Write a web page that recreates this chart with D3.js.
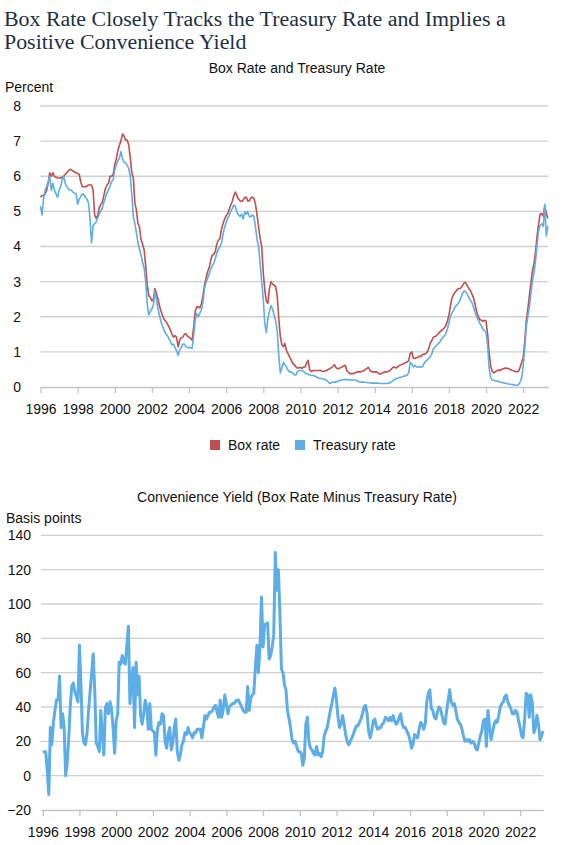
<!DOCTYPE html>
<html>
<head>
<meta charset="utf-8">
<script src="https://cdn.jsdelivr.net/npm/d3@7"></script>
<style>
  body { margin: 0; background: #fff; }
  text { font-family: Arial, "Liberation Sans", sans-serif; }
</style>
</head>
<body>
<script>
// monthly values, starting January 1996
var treasuryRate = [
  5.15, 4.9, 5.35, 5.6, 5.7, 5.85, 6.0, 5.6, 5.8, 5.6,
  5.5, 5.4, 5.6, 5.7, 5.9, 6.0, 5.8, 5.7, 5.65, 5.6,
  5.6, 5.55, 5.52, 5.5, 5.2, 5.35, 5.42, 5.5, 5.48, 5.4,
  5.35, 5.25, 4.8, 4.1, 4.6, 4.65, 4.7, 4.82, 4.92, 5.0,
  5.1, 5.25, 5.38, 5.52, 5.62, 5.72, 5.85, 5.9, 6.18, 6.33,
  6.43, 6.52, 6.7, 6.5, 6.4, 6.38, 6.32, 6.22, 6.0, 5.5,
  4.85, 4.65, 4.4, 4.12, 3.92, 3.75, 3.55, 3.38, 3.0, 2.35,
  2.05, 2.15, 2.22, 2.35, 2.72, 2.5, 2.22, 2.03, 1.85, 1.72,
  1.6, 1.52, 1.46, 1.38, 1.3, 1.2, 1.22, 1.13, 1.03, 0.9,
  1.05, 1.12, 1.22, 1.22, 1.15, 1.12, 1.12, 1.12, 1.1, 1.45,
  1.9, 2.1, 2.0, 2.1, 2.2, 2.4, 2.8, 2.98, 3.1, 3.22,
  3.35, 3.45, 3.52, 3.65, 3.82, 3.92, 4.0, 4.1, 4.35, 4.55,
  4.68, 4.82, 4.88, 5.0, 5.08, 5.18, 5.15, 4.98, 4.9, 4.86,
  4.92, 4.78, 4.98, 4.92, 5.0, 4.85, 4.85, 4.9, 4.85, 4.55,
  4.2, 4.0, 3.5, 3.0, 2.5, 1.8, 1.55, 1.95, 2.15, 2.32,
  2.22, 2.05, 1.88, 1.6, 0.9, 0.4, 0.55, 0.7, 0.63, 0.57,
  0.48, 0.43, 0.43, 0.4, 0.35, 0.34, 0.43, 0.47, 0.47, 0.47,
  0.45, 0.4, 0.38, 0.36, 0.34, 0.33, 0.33, 0.32, 0.29, 0.27,
  0.25, 0.24, 0.24, 0.23, 0.21, 0.19, 0.15, 0.1, 0.12, 0.14,
  0.14, 0.14, 0.16, 0.18, 0.19, 0.2, 0.21, 0.21, 0.21, 0.21,
  0.2, 0.2, 0.2, 0.2, 0.19, 0.17, 0.15, 0.14, 0.14, 0.14,
  0.13, 0.13, 0.12, 0.12, 0.11, 0.11, 0.11, 0.11, 0.11, 0.1,
  0.1, 0.1, 0.1, 0.1, 0.1, 0.11, 0.12, 0.15, 0.19, 0.22,
  0.24, 0.25, 0.27, 0.28, 0.29, 0.31, 0.32, 0.34, 0.4, 0.7,
  0.66, 0.57, 0.62, 0.57, 0.57, 0.58, 0.56, 0.58, 0.68, 0.73,
  0.77, 0.82, 0.87, 0.95, 1.09, 1.14, 1.18, 1.23, 1.27, 1.35,
  1.4, 1.45, 1.52, 1.65, 1.83, 2.02, 2.11, 2.18, 2.28, 2.33,
  2.37, 2.45, 2.58, 2.68, 2.74, 2.7, 2.62, 2.53, 2.46, 2.4,
  2.26, 2.13, 2.0, 1.91, 1.81, 1.74, 1.64, 1.61, 1.56, 1.2,
  0.55, 0.26, 0.2, 0.19, 0.18, 0.17, 0.16, 0.14, 0.13, 0.12,
  0.11, 0.1, 0.09, 0.08, 0.08, 0.07, 0.06, 0.05, 0.05, 0.06,
  0.14, 0.26, 0.6, 1.1, 1.7, 2.0, 2.25, 2.65, 3.0, 3.25,
  3.6, 4.05, 4.45, 4.6, 4.65, 4.57, 5.2, 4.3, 4.58
];

var boxRate = [
  5.4, 5.45, 5.45, 5.5, 5.6, 5.8, 6.1, 6.0, 6.1, 6.0,
  5.97, 5.95, 5.95, 5.95, 5.97, 6.0, 6.05, 6.1, 6.15, 6.2,
  6.18, 6.15, 6.12, 6.1, 6.08, 6.05, 5.85, 5.7, 5.7, 5.7,
  5.72, 5.75, 5.75, 5.75, 5.6, 4.9, 4.8, 4.88, 5.1, 5.2,
  5.25, 5.45, 5.65, 5.75, 5.8, 6.0, 6.0, 6.05, 6.33, 6.5,
  6.72, 6.88, 7.0, 7.2, 7.15, 7.03, 7.03, 6.9, 6.53, 6.1,
  5.95, 5.22, 5.05, 4.65, 4.56, 4.2, 4.07, 3.9, 3.45, 2.9,
  2.6, 2.55, 2.45, 2.5, 2.8, 2.66, 2.5, 2.3, 2.15, 2.02,
  1.92, 1.87, 1.8, 1.72, 1.62, 1.5, 1.42, 1.46, 1.42, 1.14,
  1.33, 1.4, 1.42, 1.5, 1.52, 1.45, 1.42, 1.38, 1.33, 1.7,
  2.15, 2.28, 2.28, 2.25, 2.37, 2.6, 2.9, 3.1, 3.28, 3.4,
  3.6, 3.75, 3.78, 3.85, 4.07, 4.18, 4.23, 4.5, 4.65, 4.78,
  4.88, 4.93, 5.05, 5.18, 5.28, 5.45, 5.55, 5.44, 5.35, 5.3,
  5.28, 5.32, 5.4, 5.4, 5.3, 5.3, 5.38, 5.41, 5.37, 5.2,
  4.9, 4.55, 4.23, 4.0, 3.25, 2.75, 2.45, 2.38, 2.8, 3.0,
  2.93, 2.9, 2.85, 2.6, 1.95, 1.45, 1.2, 1.15, 1.24, 1.04,
  0.95, 0.86, 0.77, 0.68, 0.63, 0.58, 0.54, 0.54, 0.56, 0.53,
  0.57, 0.57, 0.68, 0.76, 0.5, 0.44, 0.46, 0.47, 0.47, 0.47,
  0.47, 0.47, 0.45, 0.44, 0.46, 0.47, 0.5, 0.52, 0.55, 0.58,
  0.64, 0.55, 0.52, 0.53, 0.55, 0.57, 0.6, 0.62, 0.47, 0.42,
  0.38, 0.38, 0.38, 0.4, 0.42, 0.43, 0.43, 0.43, 0.45, 0.46,
  0.5, 0.53, 0.56, 0.47, 0.44, 0.43, 0.43, 0.43, 0.42, 0.37,
  0.37, 0.4, 0.42, 0.43, 0.43, 0.45, 0.47, 0.52, 0.57, 0.56,
  0.54, 0.58, 0.61, 0.63, 0.65, 0.67, 0.7, 0.71, 0.75, 0.95,
  1.0, 0.82, 0.81, 0.84, 0.84, 0.88, 0.87, 0.93, 0.93, 0.95,
  1.0, 1.1, 1.26, 1.33, 1.42, 1.44, 1.46, 1.51, 1.56, 1.6,
  1.64, 1.68, 1.75, 1.87, 2.05, 2.32, 2.53, 2.62, 2.7, 2.75,
  2.8, 2.8, 2.83, 2.9, 2.98, 2.96, 2.87, 2.79, 2.74, 2.64,
  2.53, 2.35, 2.14, 2.01, 1.92, 1.9, 1.87, 1.9, 1.88, 1.5,
  1.0, 0.6, 0.45, 0.4, 0.43, 0.47, 0.48, 0.47, 0.5, 0.52,
  0.53, 0.54, 0.53, 0.51, 0.49, 0.47, 0.46, 0.44, 0.43, 0.45,
  0.56, 0.7, 0.83, 1.3, 1.85, 2.2, 2.58, 2.95, 3.3, 3.5,
  3.85, 4.3, 4.65, 4.92, 4.94, 4.86, 5.15, 4.95, 4.8
];

// basis points, monthly from January 1996
var convenienceYield = [
  14, 14, 14, 3, -11, 28, 18, 31, 38, 44,
  44, 58, 28, 36, 29, 0, 7, 21, 40, 52,
  54, 49, 46, 43, 76, 52, 25, 19, 18, 25,
  38, 49, 60, 71, 50, 19, 17, 14, 38, 25,
  12, 40, 42, 36, 43, 39, 28, 13, 32, 36,
  66, 65, 70, 66, 65, 76, 87, 42, 55, 63,
  28, 66, 47, 58, 35, 30, 36, 44, 40, 27,
  42, 27, 26, 25, 12, 27, 31, 30, 36, 35,
  20, 16, 24, 28, 15, 19, 28, 33, 14, 9,
  12, 18, 20, 25, 24, 28, 25, 24, 22, 25,
  25, 27, 27, 27, 22, 28, 35, 33, 35, 37,
  37, 38, 40, 41, 37, 34, 44, 34, 39, 47,
  42, 36, 40, 41, 42, 42, 43, 44, 44, 42,
  40, 38, 37, 37, 52, 38, 45, 47, 48, 63,
  76, 60, 75, 104, 75, 88, 88, 89, 68, 70,
  75, 82, 130, 108, 120, 95, 62, 60, 53, 50,
  38, 33, 28, 21, 19, 20, 17, 14, 14, 13,
  6, 10, 30, 34, 20, 16, 15, 13, 12, 17,
  12, 13, 11, 14, 23, 26, 28, 33, 38, 42,
  47, 51, 44, 34, 28, 30, 35, 30, 24, 20,
  18, 20, 22, 24, 27, 29, 29, 31, 33, 36,
  40, 41, 36, 26, 22, 26, 32, 33, 29, 27,
  28, 28, 30, 31, 34, 33, 32, 34, 32, 35,
  32, 30, 31, 34, 36, 30, 28, 28, 26, 24,
  21, 16, 18, 24, 23, 22, 27, 31, 30, 27,
  30, 43, 48, 50, 39, 38, 34, 33, 37, 40,
  39, 35, 31, 30, 38, 44, 50, 43, 41, 42,
  38, 33, 31, 30, 27, 23, 20, 21, 20, 21,
  19, 20, 19, 16, 15, 19, 23, 26, 32, 33,
  17, 38, 29, 21, 25, 30, 32, 31, 35, 40,
  42, 43, 46, 47, 43, 41, 39, 36, 36, 38,
  37, 32, 28, 23, 22, 33, 48, 47, 34, 47,
  42, 25, 28, 35, 30, 21, 23, 26
];

var rateTicks = [0, 1, 2, 3, 4, 5, 6, 7, 8];
var bpTicks = [-20, 0, 20, 40, 60, 80, 100, 120, 140];
var yearTicks = [1996, 1998, 2000, 2002, 2004, 2006, 2008, 2010, 2012, 2014, 2016, 2018, 2020, 2022];
var seriesNames = ["Box rate", "Treasury rate"];

var red = "#c0504d";
var blue = "#5dade6";
var grid = "#d0d0d0";
var startMonth = new Date(1996, 0, 1);

function monthDate(i) { return d3.timeMonth.offset(startMonth, i); }

var svg = d3.select("body").append("svg").attr("width", 567).attr("height", 845);

// title
var titleLines = ["Box Rate Closely Tracks the Treasury Rate and Implies a", "Positive Convenience Yield"];
var title = svg.selectAll(".title").data(titleLines).enter()
  .append("text")
  .attr("class", "title")
  .attr("x", 4)
  .attr("y", function(d, i){ return 26 + i * 23; })
  .style("font-family", "Georgia, 'Liberation Serif', 'DejaVu Serif', serif")
  .style("font-size", "21px")
  .attr("fill", "#1e3044")
  .text(function(d){ return d; });
// fit the first line to the width it has in the picture
var w0 = title.node().getComputedTextLength();
title.style("font-size", (21 * 502 / w0) + "px");

function drawPanel(opt) {
  var g = svg.append("g");
  var x = opt.x, y = opt.y;
  var x0 = x.range()[0], x1 = x.range()[1];

  g.append("text").attr("x", 297).attr("y", opt.titleY).attr("text-anchor", "middle")
    .style("font-size", "14px").attr("fill", "#111").text(opt.title);
  g.append("text").attr("x", opt.unitX).attr("y", opt.unitY)
    .style("font-size", "14px").attr("fill", "#111").text(opt.unit);

  g.selectAll(".grid").data(opt.ticks.slice(1)).enter()
    .append("line")
    .attr("x1", x0).attr("x2", x1)
    .attr("y1", function(d){ return y(d); })
    .attr("y2", function(d){ return y(d); })
    .attr("stroke", grid).attr("stroke-width", 1.3);

  var yAxis = g.append("g").attr("transform", "translate(" + opt.labelX + ",0)")
    .call(d3.axisLeft(y).tickValues(opt.ticks).tickSize(0).tickPadding(0));
  yAxis.select(".domain").remove();
  yAxis.selectAll("text").style("font-size", "14px").attr("fill", "#111");

  var xAxis = g.append("g").attr("transform", "translate(0," + y(opt.ticks[0]) + ")")
    .call(d3.axisBottom(x)
      .tickValues(yearTicks.map(function(yr){ return new Date(yr, 0, 1); }))
      .tickFormat(d3.timeFormat("%Y"))
      .tickSize(6).tickSizeOuter(0).tickPadding(opt.tickPad));
  xAxis.select(".domain").attr("stroke", "#c4c4c4").attr("stroke-width", 1.3);
  xAxis.selectAll(".tick line").attr("stroke", "#c4c4c4").attr("stroke-width", 1.3);
  xAxis.selectAll("text").style("font-size", "14px").attr("fill", "#111");

  opt.series.forEach(function(s){
    g.append("path")
      .datum(s.values)
      .attr("fill", "none")
      .attr("stroke", s.color)
      .attr("stroke-width", s.width)
      .attr("stroke-linejoin", "round")
      .attr("d", d3.line()
        .x(function(d, i){ return x(monthDate(i)); })
        .y(function(d){ return y(d); }));
  });
}

drawPanel({
  title: "Box Rate and Treasury Rate", titleY: 73,
  unit: "Percent", unitX: 5, unitY: 92,
  x: d3.scaleTime().domain([new Date(1996, 0, 1), new Date(2023, 4, 10)]).range([40.5, 548.3]),
  y: d3.scaleLinear().domain([0, 8]).range([387, 106]),
  ticks: rateTicks, labelX: 21, tickPad: 11,
  series: [
    { values: boxRate, color: red, width: 1.6 },
    { values: treasuryRate, color: blue, width: 1.6 }
  ]
});

// legend
var legend = svg.selectAll(".legend").data(seriesNames).enter()
  .append("g")
  .attr("class", "legend")
  .attr("transform", function(d, i){ return "translate(" + (i == 0 ? 210 : 295) + ",440)"; });
legend.append("rect").attr("width", 10).attr("height", 10)
  .attr("fill", function(d, i){ return i == 0 ? red : blue; });
legend.append("text").attr("x", 18).attr("y", 10)
  .style("font-size", "14px").attr("fill", "#111")
  .text(function(d){ return d; });

drawPanel({
  title: "Convenience Yield (Box Rate Minus Treasury Rate)", titleY: 502,
  unit: "Basis points", unitX: 6, unitY: 523,
  x: d3.scaleTime().domain([new Date(1995, 10, 28), new Date(2023, 3, 7)]).range([41, 543.3]),
  y: d3.scaleLinear().domain([-20, 140]).range([810, 535.3]),
  ticks: bpTicks, labelX: 31, tickPad: 11,
  series: [
    { values: convenienceYield, color: blue, width: 3 }
  ]
});
</script>
</body>
</html>
